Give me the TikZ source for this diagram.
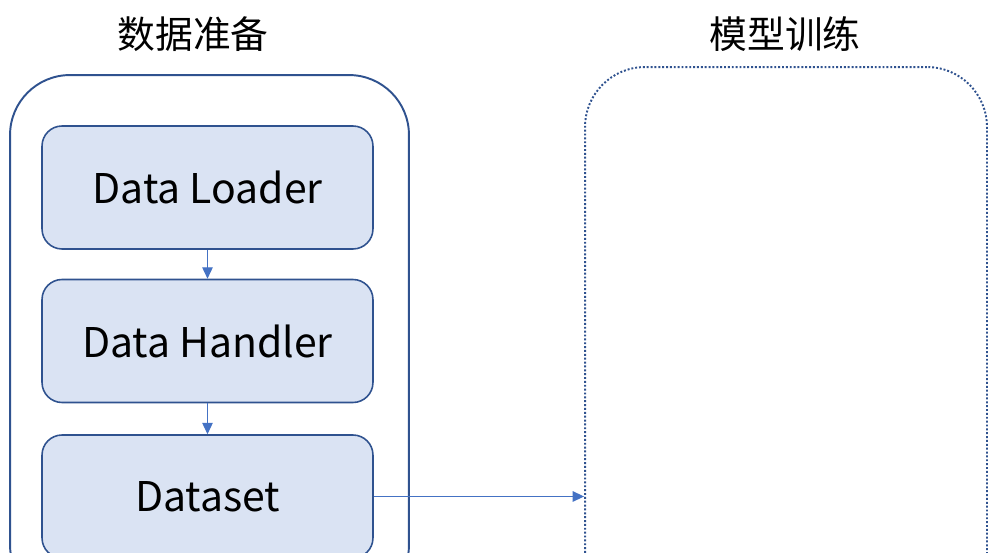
\documentclass[tikz,border=0pt]{standalone}
\usepackage{fontspec}
\setmainfont{Noto Sans CJK SC}
\usetikzlibrary{arrows.meta, positioning}

\definecolor{edgeblue}{HTML}{2F528F}
\definecolor{arrowblue}{HTML}{4472C4}
\definecolor{boxfill}{HTML}{DAE3F3}

\begin{document}
\begin{tikzpicture}[
  x=0.02cm, y=-0.02cm,
  stage/.style={rectangle, draw=edgeblue, line width=1.1pt, rounded corners=1.2cm, minimum width=7.98cm, minimum height=10.6cm},
  title/.style={font=\fontsize{21.5}{24}\selectfont},
  part/.style={rectangle, draw=edgeblue, line width=0.9pt, fill=boxfill, rounded corners=0.4cm, minimum width=6.62cm, minimum height=2.46cm, font=\fontsize{23.3}{27}\selectfont},
  flow/.style={-{Triangle[length=6.5pt, width=6pt]}, draw=arrowblue, line width=0.6pt}
]
\useasboundingbox (0,0) rectangle (994,553);
\clip (0,0) rectangle (994,553);

% Stages
\node[title] (preptitle) at (193,34) {数据准备};
\node[title] (traintitle) at (785,34) {模型训练};
\node[stage] (prep) at (209.5,340) {};
\node[stage, minimum width=8.04cm, minimum height=11cm, dash pattern=on 1.1pt off 1.1pt] (train) at (786,342) {};

% Parts
\node[part] (loader) at (207.5,187.5) {Data Loader};
\node[part] (handler) at (207.5,341) {Data Handler};
\node[part] (dataset) at (207.5,496.5) {Dataset};

% Flows
\draw[flow] (loader) -- (handler);
\draw[flow] (handler) -- (dataset);
\draw[flow] (dataset.east) -- (dataset.east -| train.west);

\end{tikzpicture}
\end{document}
